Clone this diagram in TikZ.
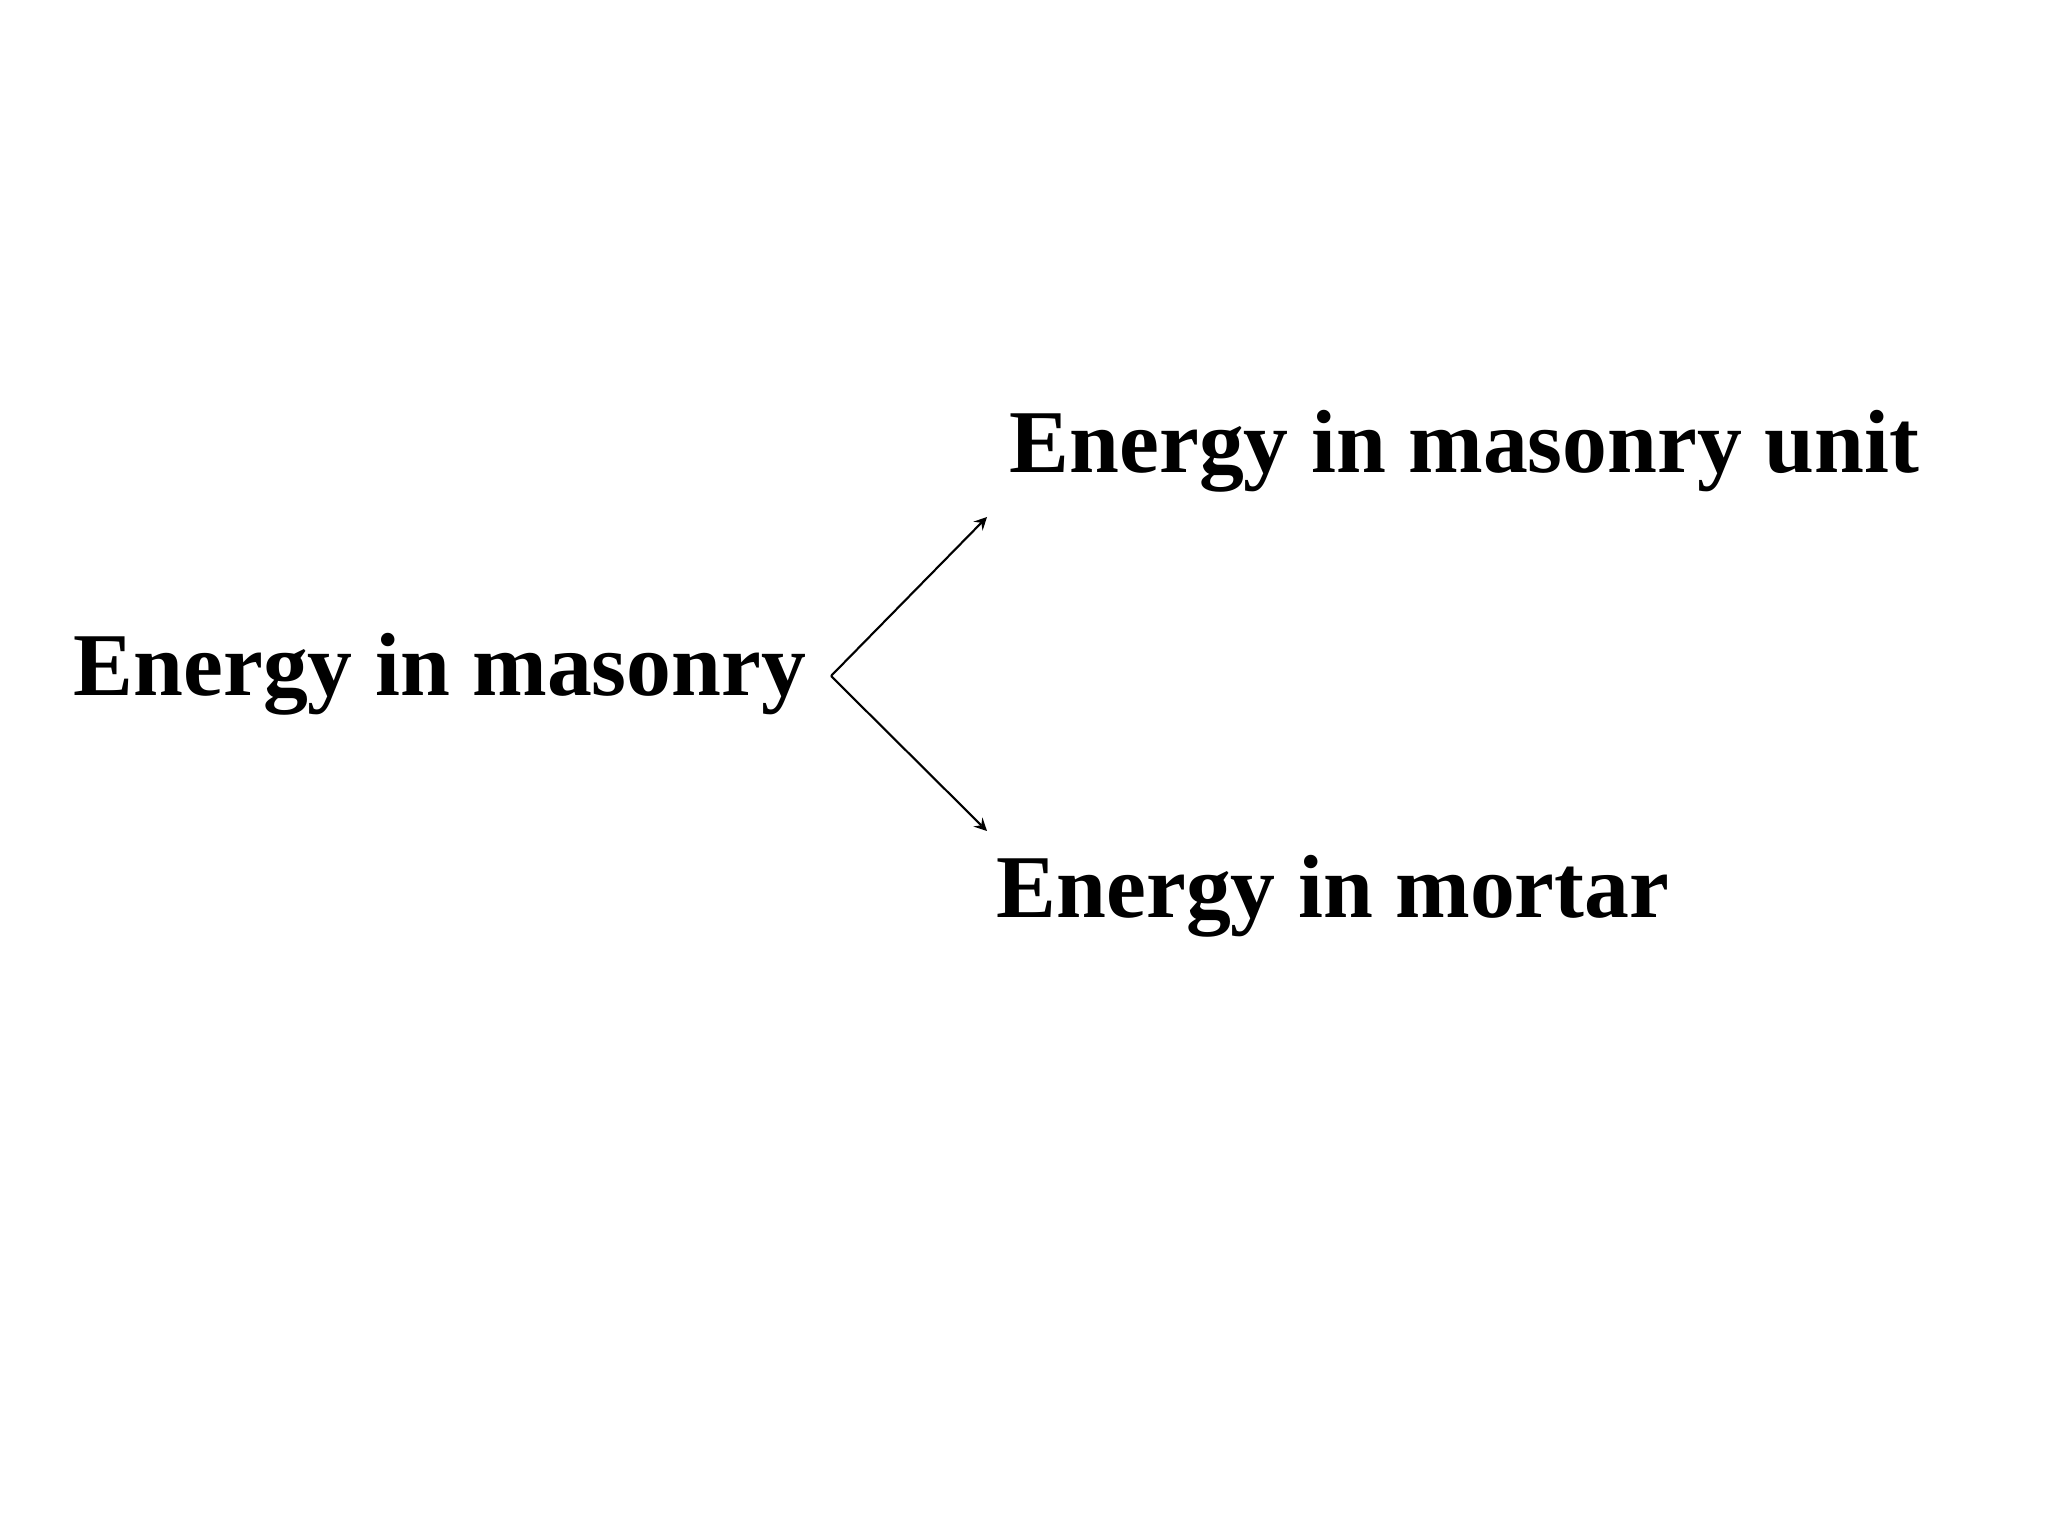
\documentclass[tikz,border=0pt]{standalone}
\usepackage{fontspec}
\setmainfont{Liberation Serif}
\begin{document}
\begin{tikzpicture}[x=0.01cm,y=-0.01cm,
  lbl/.style={anchor=base west,inner sep=0pt,font=\fontsize{25.5}{30}\selectfont\bfseries},
  arr/.style={-stealth,line width=0.6pt}]
\useasboundingbox (0,0) rectangle (2048,1534);
\node[lbl] (src) at (73,696) {Energy in masonry};
\node[lbl] (unit) at (1009,473) {Energy in masonry unit};
\node[lbl] (mort) at (996,917) {Energy in mortar};
\coordinate (v) at (831,676);
\coordinate (e1) at (987,517);
\coordinate (e2) at (987,831);
\draw[arr] (v) -- (e1);
\draw[arr] (v) -- (e2);
\end{tikzpicture}
\end{document}
